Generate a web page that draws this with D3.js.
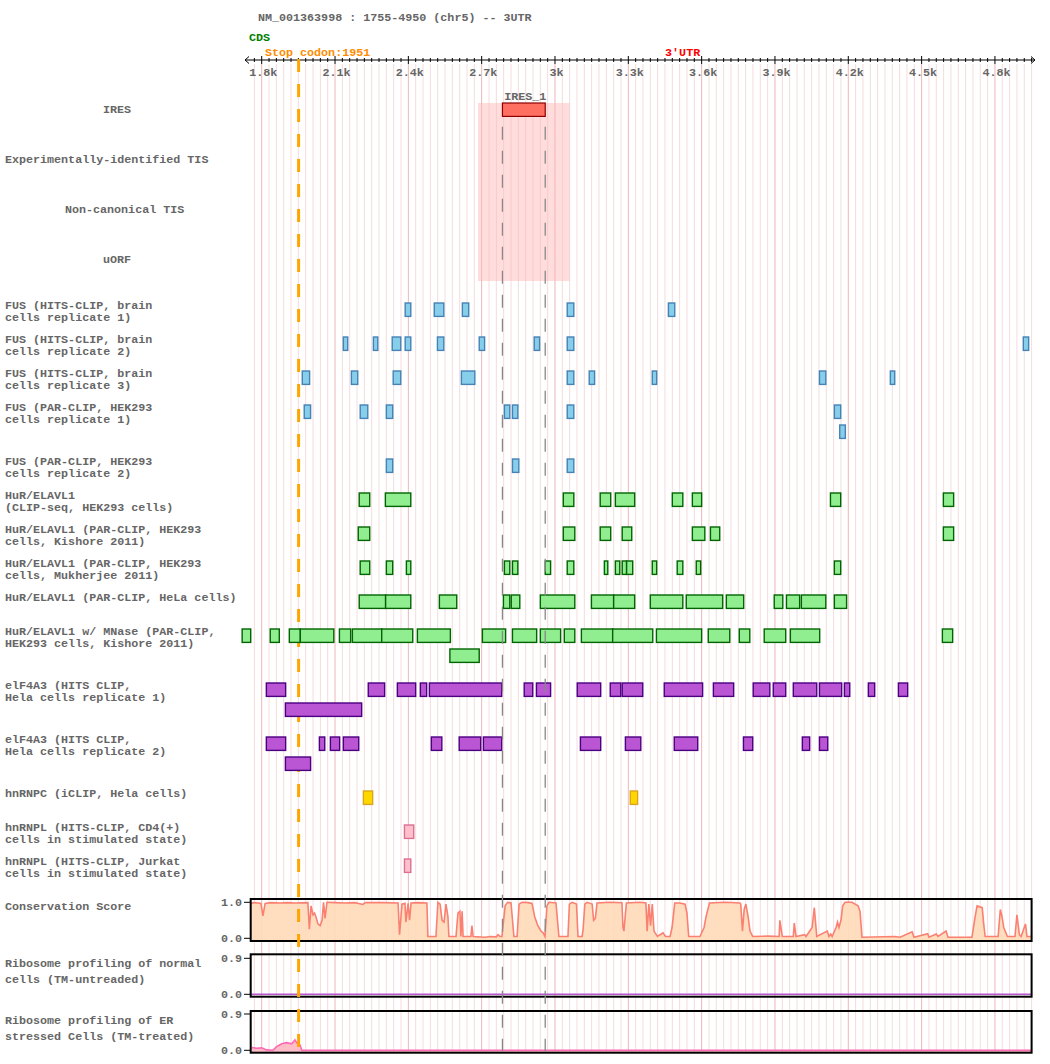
<!DOCTYPE html>
<html><head><meta charset="utf-8">
<script src="https://cdn.jsdelivr.net/npm/d3@7"></script>
<style>
body{margin:0;background:#fff}
svg{display:block}
text{font-family:"Liberation Mono",monospace;font-weight:bold;font-size:11.7px}
</style>
</head><body>
<svg id="c" width="1050" height="1064"></svg>
<script>
// ---------------- data ----------------
const titleText = "NM_001363998 : 1755-4950 (chr5) -- 3UTR";
const regionDomain = [1755, 4950];
const stopCodon = 1951;
const majorTicks = [1800, 2100, 2400, 2700, 3000, 3300, 3600, 3900, 4200, 4500, 4800];
const majorTickLabels = ["1.8k", "2.1k", "2.4k", "2.7k", "3k", "3.3k", "3.6k", "3.9k", "4.2k", "4.5k", "4.8k"];
const minorStep = 30;
const iresSites = [{name: "IRES_1", start: 2785, end: 2960}];
const iresFlank = 100;

const fusBrain1 = [[2387,2410],[2506,2545],[2621,2647],[3050,3077],[3464,3490]];
const fusBrain2 = [[2134,2152],[2257,2275],[2334,2369],[2387,2410],[2519,2545],[2690,2712],[2915,2937],[3050,3077],[4916,4938]];
const fusBrain3 = [[1966,1996],[2167,2193],[2338,2369],[2617,2672],[3050,3077],[3140,3162],[3398,3416],[4082,4108],[4372,4390]];
const fusPar1 = [[1974,2000],[2203,2234],[2310,2336],[2793,2815],[2826,2848],[3050,3077],[4143,4169],[4165,4188]];
const fusPar2 = [[2310,2336],[2826,2852],[3050,3077]];
const hurClip = [[2199,2242],[2306,2410],[3034,3077],[3185,3228],[3247,3326],[3480,3523],[3562,3600],[4127,4169],[4589,4631]];
const hurKishore = [[2195,2242],[3034,3081],[3185,3228],[3275,3314],[3562,3613],[3636,3674],[4589,4631]];
const hurMukherjee = [[2203,2242],[2310,2336],[2392,2410],[2793,2815],[2826,2848],[2960,2982],[3050,3077],[3202,3216],[3247,3265],[3275,3293],[3293,3318],[3398,3416],[3500,3523],[3578,3596],[4143,4169]];
const hurHela = [[2199,2307],[2307,2410],[2527,2598],[2789,2815],[2821,2856],[2940,3081],[3149,3240],[3240,3326],[3390,3523],[3537,3686],[3701,3772],[3897,3932],[3947,4001],[4008,4108],[4143,4193]];
const hurMnase = [[1720,1755],[1835,1872],[1913,1958],[1958,2095],[2118,2164],[2171,2291],[2291,2418],[2437,2572],[2570,2690],[2703,2798],[2826,2925],[2940,3023],[3038,3081],[3108,3236],[3236,3400],[3415,3600],[3627,3715],[3754,3797],[3856,3944],[3963,4083],[4585,4627]];
const eif4a3Rep1 = [[1819,1898],[1897,2209],[2236,2303],[2355,2430],[2449,2475],[2486,2782],[2874,2909],[2924,2982],[3091,3187],[3226,3269],[3275,3359],[3447,3604],[3648,3731],[3811,3879],[3893,3944],[3975,4071],[4082,4173],[4184,4206],[4282,4308],[4405,4443]];
const eif4a3Rep2 = [[1819,1898],[1897,2000],[2036,2058],[2081,2119],[2134,2197],[2494,2537],[2608,2696],[2707,2782],[3104,3187],[3288,3351],[3488,3584],[3771,3809],[4012,4042],[4082,4116]];
const hnrnpcIclip = [[2216,2254],[3308,3338]];
const hnrnplCd4 = [[2384,2422]];
const hnrnplJurkat = [[2384,2410]];

const conservationScore = [
 [1756,0.97],[1770,0.99],[1785,0.98],[1797,0.97],[1805,0.62],[1814,0.97],[1840,0.99],[1875,0.98],[1905,0.99],[1936,0.98],[1989,0.99],
 [1995,0.25],[2002,0.9],[2010,0.65],[2016,0.7],[2022,0.6],[2030,0.4],[2039,0.35],[2047,0.5],[2053,1.0],[2059,0.55],[2067,1.0],
 [2100,0.99],[2141,0.98],[2180,0.99],[2215,0.94],[2223,0.99],[2300,0.99],[2358,0.98],[2364,0.1],[2374,0.95],[2386,0.97],[2390,0.45],
 [2399,0.97],[2405,0.5],[2411,0.98],[2440,0.99],[2476,0.98],[2480,0.05],[2513,0.05],[2521,1.0],[2530,0.95],[2538,0.5],[2546,0.45],
 [2554,0.95],[2562,0.6],[2566,0.05],[2595,0.05],[2603,0.7],[2611,0.75],[2615,0.05],[2620,0.75],[2624,0.05],[2656,0.05],[2660,0.35],
 [2665,0.05],[2714,0.03],[2734,0.05],[2760,0.04],[2767,0.1],[2775,0.05],[2783,0.05],[2796,0.9],[2806,1.0],[2820,0.98],[2832,0.05],
 [2845,0.05],[2853,0.95],[2865,1.0],[2890,0.99],[2906,0.97],[2917,0.6],[2930,0.35],[2943,0.2],[2952,0.15],[2959,0.05],[2967,0.9],
 [2975,1.0],[3004,0.98],[3009,0.6],[3016,0.05],[3053,0.05],[3059,0.95],[3070,1.0],[3088,0.95],[3094,0.05],[3111,0.05],[3115,0.25],
 [3122,0.95],[3131,1.0],[3152,0.95],[3158,0.5],[3165,0.55],[3172,0.98],[3225,1.0],[3274,0.99],[3278,0.3],[3282,0.2],[3292,0.98],
 [3348,1.0],[3372,0.98],[3377,0.2],[3384,0.95],[3391,0.35],[3398,0.95],[3405,0.2],[3419,0.05],[3430,0.1],[3442,0.15],[3452,0.05],
 [3471,0.05],[3479,0.3],[3490,0.98],[3511,0.98],[3532,0.95],[3540,0.7],[3547,0.05],[3593,0.05],[3610,0.3],[3618,0.6],[3632,0.98],
 [3696,1.0],[3757,0.98],[3760,0.95],[3767,0.2],[3774,0.8],[3781,0.95],[3790,0.6],[3798,0.2],[3809,0.05],[3873,0.06],[3917,0.05],
 [3920,0.5],[3930,0.05],[3975,0.05],[3979,0.42],[3986,0.05],[4022,0.1],[4027,0.05],[4052,0.3],[4061,0.85],[4071,0.05],[4114,0.2],
 [4121,0.05],[4128,0.12],[4134,0.05],[4150,0.3],[4156,0.45],[4162,0.3],[4170,0.5],[4177,0.9],[4187,1.0],[4215,1.0],[4240,0.9],
 [4248,0.75],[4256,0.03],[4390,0.05],[4412,0.03],[4461,0.18],[4469,0.03],[4525,0.13],[4530,0.03],[4560,0.12],[4567,0.05],[4600,0.2],
 [4608,0.03],[4706,0.03],[4719,0.6],[4727,0.9],[4748,0.85],[4754,0.4],[4760,0.05],[4813,0.05],[4822,0.8],[4829,0.6],[4836,0.3],
 [4851,0.05],[4882,0.05],[4890,0.65],[4900,0.1],[4907,0.05],[4925,0.4],[4931,0.05],[4950,0.05]
];
const riboNormal = [[1755,0],[2500,0],[3500,0],[4950,0]];
const riboStressed = [[1759,0.07],[1780,0.05],[1800,0.06],[1820,0.01],[1846,0.0],[1861,0.09],[1882,0.16],[1902,0.19],[1923,0.16],
 [1936,0.26],[1943,0.19],[1957,0.13],[1964,0.0],[2500,0.0],[4950,0.0]];

// ---------------- layout ----------------
(function draw() {
const svg = d3.select("#c");
const x = d3.scaleLinear().domain(regionDomain).range([250.7, 1031.6]);
const labelColor = "#666";
const bottomY = 1053;

const gridTicks = d3.range(1770, regionDomain[1] + 1, minorStep);

svg.append("g").selectAll("line").data(gridTicks).join("line")
  .attr("x1", d => x(d)).attr("x2", d => x(d))
  .attr("y1", 64).attr("y2", bottomY)
  .attr("stroke", d => d % 300 === 0 ? "#eeb6b6" : "#f5dcdc")
  .attr("stroke-width", 1);

svg.append("text").attr("x", 258).attr("y", 21).attr("fill", labelColor).text(titleText);
svg.append("text").attr("x", 249).attr("y", 41).attr("fill", "#008000").text("CDS");
svg.append("text").attr("x", 265).attr("y", 56).attr("fill", "#ff8c00").text("Stop codon:" + stopCodon);
svg.append("text").attr("x", x((stopCodon + regionDomain[1]) / 2)).attr("y", 56).attr("fill", "#ff0000").text("3'UTR");

const axisY = 60;
const ax = svg.append("g");
ax.append("line").attr("x1", 245).attr("x2", 1035).attr("y1", axisY).attr("y2", axisY).attr("stroke", "#000");
ax.append("path").attr("d", `M249,${axisY-3.5}L245,${axisY}L249,${axisY+3.5}`).attr("fill", "none").attr("stroke", "#000");
ax.append("path").attr("d", `M1031,${axisY-3.5}L1035,${axisY}L1031,${axisY+3.5}`).attr("fill", "none").attr("stroke", "#000");
ax.selectAll("line.minor").data(gridTicks).join("line").attr("class", "minor")
  .attr("x1", d => x(d)).attr("x2", d => x(d))
  .attr("y1", d => d % 300 === 0 ? axisY - 4 : axisY - 2)
  .attr("y2", d => d % 300 === 0 ? axisY + 4 : axisY + 2)
  .attr("stroke", "#000");
ax.selectAll("text").data(majorTicks).join("text")
  .attr("x", d => x(d) + 1.5).attr("y", 76).attr("text-anchor", "middle").attr("fill", labelColor)
  .text((d, i) => majorTickLabels[i]);

const iresTop = 103, iresBoxH = 13.4;
svg.append("g").selectAll("rect").data(iresSites).join("rect")
  .attr("x", d => x(d.start - iresFlank)).attr("width", d => x(d.end + iresFlank) - x(d.start - iresFlank))
  .attr("y", iresTop).attr("height", 281 - iresTop)
  .attr("fill", "#ffb3b3").attr("opacity", 0.45);

function plotPanel(top, bottom, yTop, yBottom, maxV, tickLabels, data, lineColor, fillColor, fillOp) {
  const y = d3.scaleLinear().domain([0, maxV]).range([yBottom, yTop]);
  const g = svg.append("g");
  if (fillColor) {
    g.append("path").datum(data)
      .attr("d", d3.area().x(d => x(d[0])).y0(bottom).y1(d => y(d[1])))
      .attr("fill", fillColor).attr("opacity", fillOp);
  }
  g.append("path").datum(data)
    .attr("d", d3.line().x(d => x(d[0])).y(d => y(d[1])))
    .attr("fill", "none").attr("stroke", lineColor).attr("stroke-width", 1.6);
  g.append("rect").attr("x", x(regionDomain[0])).attr("y", top)
    .attr("width", x(regionDomain[1]) - x(regionDomain[0])).attr("height", bottom - top)
    .attr("fill", "none").attr("stroke", "#000").attr("stroke-width", 2);
  [[maxV, tickLabels[1]], [0, tickLabels[0]]].forEach(([v, t]) => {
    g.append("line").attr("x1", 244).attr("x2", x(regionDomain[0])).attr("y1", y(v)).attr("y2", y(v)).attr("stroke", "#000");
    g.append("text").attr("x", 242).attr("y", y(v) + 4).attr("text-anchor", "end").attr("fill", labelColor).text(t);
  });
}
plotPanel(899, 941, 902.3, 938.3, 1, ["0.0", "1.0"], conservationScore, "#fa8072", "#ffdab9", 0.9);
plotPanel(954.3, 996.7, 958.3, 994.3, 0.9, ["0.0", "0.9"], riboNormal, "#ba55d3", null, 0);
plotPanel(1011, 1052.7, 1014, 1050.3, 0.9, ["0.0", "0.9"], riboStressed, "#ff69b4", "#ffb6c1", 0.9);

svg.append("line").attr("x1", x(stopCodon)).attr("x2", x(stopCodon)).attr("y1", 59).attr("y2", bottomY)
  .attr("stroke", "#ffa500").attr("stroke-width", 3).attr("stroke-dasharray", "13,12");

const headerTracks = [
  {lines: ["IRES"], lx: 103, top: 103},
  {lines: ["Experimentally-identified TIS"], lx: 5, top: 153},
  {lines: ["Non-canonical TIS"], lx: 65, top: 203},
  {lines: ["uORF"], lx: 103, top: 253}
];
headerTracks.forEach(t => {
  svg.append("text").attr("x", t.lx).attr("y", t.top + 10).attr("fill", labelColor).text(t.lines[0]);
});

const fus = {fill: "#87ceeb", stroke: "#4682b4"};
const hur = {fill: "#90ee90", stroke: "#006400"};
const eif = {fill: "#ba55d3", stroke: "#4b0082"};
const hnc = {fill: "#ffd700", stroke: "#daa520"};
const hnl = {fill: "#ffc0cb", stroke: "#db7093"};
const featureTracks = [
  {lines: ["FUS (HITS-CLIP, brain", "cells replicate 1)"], data: fusBrain1, c: fus},
  {lines: ["FUS (HITS-CLIP, brain", "cells replicate 2)"], data: fusBrain2, c: fus},
  {lines: ["FUS (HITS-CLIP, brain", "cells replicate 3)"], data: fusBrain3, c: fus},
  {lines: ["FUS (PAR-CLIP, HEK293", "cells replicate 1)"], data: fusPar1, c: fus},
  {lines: ["FUS (PAR-CLIP, HEK293", "cells replicate 2)"], data: fusPar2, c: fus},
  {lines: ["HuR/ELAVL1", "(CLIP-seq, HEK293 cells)"], data: hurClip, c: hur},
  {lines: ["HuR/ELAVL1 (PAR-CLIP, HEK293", "cells, Kishore 2011)"], data: hurKishore, c: hur},
  {lines: ["HuR/ELAVL1 (PAR-CLIP, HEK293", "cells, Mukherjee 2011)"], data: hurMukherjee, c: hur},
  {lines: ["HuR/ELAVL1 (PAR-CLIP, HeLa cells)"], data: hurHela, c: hur},
  {lines: ["HuR/ELAVL1 w/ MNase (PAR-CLIP,", "HEK293 cells, Kishore 2011)"], data: hurMnase, c: hur},
  {lines: ["elF4A3 (HITS CLIP,", "Hela cells replicate 1)"], data: eif4a3Rep1, c: eif},
  {lines: ["elF4A3 (HITS CLIP,", "Hela cells replicate 2)"], data: eif4a3Rep2, c: eif},
  {lines: ["hnRNPC (iCLIP, Hela cells)"], data: hnrnpcIclip, c: hnc},
  {lines: ["hnRNPL (HITS-CLIP, CD4(+)", "cells in stimulated state)"], data: hnrnplCd4, c: hnl},
  {lines: ["hnRNPL (HITS-CLIP, Jurkat", "cells in stimulated state)"], data: hnrnplJurkat, c: hnl}
];

function assignLanes(feats) {
  const ends = [];
  return feats.map(([s, e]) => {
    let l = ends.findIndex(v => s >= v);
    if (l < 0) { l = ends.length; ends.push(e); } else ends[l] = e;
    return {s, e, l};
  });
}

const boxH = 13.4, laneGap = 20, trackGap = 34;
let trackTop = 303;
const boxLayer = svg.append("g");
const labelLayer = svg.append("g");
featureTracks.forEach(t => {
  const feats = assignLanes(t.data);
  const nLanes = d3.max(feats, f => f.l) + 1;
  const ty = trackTop;
  labelLayer.selectAll(null).data(t.lines).join("text")
    .attr("x", 5).attr("y", (d, i) => ty + 6 + i * 12).attr("fill", labelColor).text(d => d);
  boxLayer.selectAll(null).data(feats).join("rect")
    .attr("x", f => x(f.s)).attr("width", f => x(f.e) - x(f.s))
    .attr("y", f => ty + f.l * laneGap).attr("height", boxH)
    .attr("fill", t.c.fill).attr("stroke", t.c.stroke).attr("stroke-width", 1.4);
  trackTop += trackGap + (nLanes - 1) * laneGap;
});

svg.append("g").selectAll("rect").data(iresSites).join("rect")
  .attr("x", d => x(d.start)).attr("width", d => x(d.end) - x(d.start))
  .attr("y", iresTop).attr("height", iresBoxH)
  .attr("fill", "#ff6f61").attr("stroke", "#8b0000").attr("stroke-width", 1.2);
svg.append("g").selectAll("text").data(iresSites).join("text")
  .attr("x", d => x((d.start + d.end) / 2) + 1.5).attr("y", iresTop - 3).attr("text-anchor", "middle")
  .attr("fill", labelColor).text(d => d.name);

iresSites.forEach(d => {
  [d.start, d.end].forEach(p => {
    svg.append("line").attr("x1", x(p)).attr("x2", x(p)).attr("y1", 126.7).attr("y2", bottomY)
      .attr("stroke", "#888").attr("stroke-width", 1.3).attr("stroke-dasharray", "13,11");
  });
});

const signalLabels = [
  {lines: ["Conservation Score"], y: 910},
  {lines: ["Ribosome profiling of normal", "cells (TM-untreaded)"], y: 967},
  {lines: ["Ribosome profiling of ER", "stressed Cells (TM-treated)"], y: 1024}
];
signalLabels.forEach(s => {
  s.lines.forEach((l, i) => {
    svg.append("text").attr("x", 5).attr("y", s.y + i * 16).attr("fill", labelColor).text(l);
  });
});
})();
</script>
</body></html>
